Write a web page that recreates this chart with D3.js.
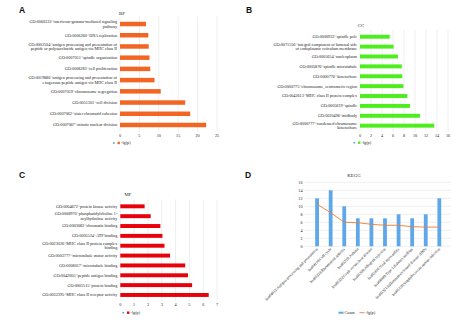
<!DOCTYPE html>
<html>
<head>
<meta charset="utf-8">
<script src="https://cdn.jsdelivr.net/npm/d3@7"></script>
<style>
  body { margin: 0; background: #fff; }
  svg { display: block; }
  .lbl { font-family: "Liberation Serif", "DejaVu Serif", serif; fill: #222; }
  .tag { font-family: "Liberation Sans", Arial, sans-serif; font-weight: bold; fill: #111; }
</style>
</head>
<body>
<svg id="chart" width="474" height="326"></svg>
<script>
// ---- data ----
const bpTerms = [
    "GO:0060333~interferon-gamma-mediated signaling\npathway",
    "GO:0006260~DNA replication",
    "GO:0002504~antigen processing and presentation of\npeptide or polysaccharide antigen via MHC class II",
    "GO:0007051~spindle organization",
    "GO:0008283~cell proliferation",
    "GO:0019886~antigen processing and presentation of\nexogenous peptide antigen via MHC class II",
    "GO:0007059~chromosome segregation",
    "GO:0051301~cell division",
    "GO:0007062~sister chromatid cohesion",
    "GO:0007067~mitotic nuclear division"
];
const bpValues = [6.7, 7.3, 7.4, 7.6, 7.8, 8.9, 10.5, 16.8, 18.1, 22.2];

const ccTerms = [
    "GO:0000922~spindle pole",
    "GO:0071556~integral component of lumenal side\nof endoplasmic reticulum membrane",
    "GO:0005654~nucleoplasm",
    "GO:0005876~spindle microtubule",
    "GO:0000776~kinetochore",
    "GO:0000775~chromosome, centromeric region",
    "GO:0042613~MHC class II protein complex",
    "GO:0005819~spindle",
    "GO:0030496~midbody",
    "GO:0000777~condensed chromosome\nkinetochore"
];
const ccValues = [5.4, 6.1, 6.9, 7.6, 7.7, 7.9, 8.6, 9.1, 10.9, 13.5];

const mfTerms = [
    "GO:0004672~protein kinase activity",
    "GO:0008970~phosphatidylcholine 1-\nacylhydrolase activity",
    "GO:0003682~chromatin binding",
    "GO:0005524~ATP binding",
    "GO:0023026~MHC class II protein complex\nbinding",
    "GO:0003777~microtubule motor activity",
    "GO:0008017~microtubule binding",
    "GO:0042605~peptide antigen binding",
    "GO:0005515~protein binding",
    "GO:0032395~MHC class II receptor activity"
];
const mfValues = [1.76, 2.2, 2.9, 3.05, 3.2, 3.6, 4.7, 4.9, 5.2, 6.4];

const keggTerms = [
    "hsa04612:Antigen processing and presentation",
    "hsa04110:Cell cycle",
    "hsa05323:Rheumatoid arthritis",
    "hsa05310:Asthma",
    "hsa05332:Graft-versus-host disease",
    "hsa05330:Allograft rejection",
    "hsa05416:Viral myocarditis",
    "hsa04940:Type I diabetes mellitus",
    "hsa05321:Inflammatory bowel disease (IBD)",
    "hsa05150:Staphylococcus aureus infection"
];
const keggCount = [12, 14, 10, 7, 7, 7, 8, 7, 8, 12];
const keggLgp = [10.5, 8.4, 6.0, 5.9, 5.5, 5.25, 5.25, 4.9, 4.8, 4.8];

const svg = d3.select("#chart");
const fs = 4.2;

function tag(x, y, t) {
    svg.append("text").attr("class", "tag").attr("x", x).attr("y", y)
        .attr("font-size", 8.5).text(t);
}

function hbar(o) {
    const g = svg.append("g");
    const x = d3.scaleLinear().domain([0, o.max]).range([o.x0, o.x1]);
    const y = d3.scaleBand().domain(o.terms).range([o.y0, o.y1])
        .paddingInner(0.6).paddingOuter(0.3);

    // grid
    g.selectAll(".grid").data(o.ticks).enter().append("line")
        .attr("x1", d => x(d)).attr("x2", d => x(d))
        .attr("y1", o.y0 - 2).attr("y2", o.y1 + 1)
        .attr("stroke", "#dcdcdc").attr("stroke-width", 0.5);

    g.selectAll(".tk").data(o.ticks).enter().append("text")
        .attr("class", "lbl").attr("font-size", fs)
        .attr("x", d => x(d)).attr("y", o.y1 + 6)
        .attr("text-anchor", "middle").text(d => d);

    g.selectAll(".bar").data(o.values).enter().append("rect")
        .attr("x", x(0))
        .attr("y", (d, i) => y(o.terms[i]))
        .attr("width", d => x(d) - x(0))
        .attr("height", y.bandwidth())
        .attr("fill", o.color);

    // category labels
    o.terms.forEach(t => {
        const lines = t.split("\n");
        const cy = y(t) + y.bandwidth() / 2;
        const txt = g.append("text").attr("class", "lbl").attr("font-size", fs)
            .attr("text-anchor", "end");
        lines.forEach((s, k) => {
            txt.append("tspan").attr("x", o.x0 - 3)
                .attr("y", cy + 1.4 + (k - (lines.length - 1) / 2) * 4.6)
                .text(s);
        });
    });

    g.append("text").attr("class", "lbl").attr("font-size", 4.8)
        .attr("x", o.titleX).attr("y", o.titleY).attr("text-anchor", "middle")
        .text(o.title);

    // legend
    g.append("rect").attr("x", o.legX).attr("y", o.legY - 0.8)
        .attr("width", 1.6).attr("height", 1.6).attr("fill", "#5b9bd5");
    g.append("rect").attr("x", o.legX + 4.5).attr("y", o.legY - 1.2)
        .attr("width", 2.4).attr("height", 2.4).attr("fill", o.color);
    g.append("text").attr("class", "lbl").attr("font-size", fs)
        .attr("x", o.legX + 8).attr("y", o.legY + 1.4).text("-lg(p)");
}

tag(19, 13, "A");
hbar({terms: bpTerms, values: bpValues, max: 25, ticks: d3.range(0, 26, 5),
      x0: 120, x1: 217, y0: 18.4, y1: 130.6, color: "#f26522",
      title: "BP", titleX: 122, titleY: 15, legX: 113, legY: 143});

tag(246, 13, "B");
hbar({terms: ccTerms, values: ccValues, max: 16, ticks: d3.range(0, 17, 2),
      x0: 360, x1: 448, y0: 31.8, y1: 130.6, color: "#4ded1e",
      title: "CC", titleX: 361, titleY: 27, legX: 353.5, legY: 142.7});

tag(19, 178, "C");
hbar({terms: mfTerms, values: mfValues, max: 7, ticks: d3.range(0, 8, 1),
      x0: 120.3, x1: 217, y0: 201.4, y1: 299.9, color: "#e8000b",
      title: "MF", titleX: 128, titleY: 196, legX: 122.5, legY: 312.7});

// ---- KEGG panel ----
tag(245, 178, "D");
const gk = svg.append("g");
const kx = d3.scaleBand().domain(keggTerms).range([305.4, 451]).padding(0.72);
const ky = d3.scaleLinear().domain([0, 16]).range([246.3, 182.3]);

gk.selectAll(".grid").data(ky.ticks(8)).enter().append("line")
    .attr("x1", 305).attr("x2", 451)
    .attr("y1", d => ky(d)).attr("y2", d => ky(d))
    .attr("stroke", "#dcdcdc").attr("stroke-width", 0.5);

gk.selectAll(".tk").data(ky.ticks(8)).enter().append("text")
    .attr("class", "lbl").attr("font-size", fs)
    .attr("x", 302.5).attr("y", d => ky(d) + 1.4)
    .attr("text-anchor", "end").text(d => d);

gk.selectAll(".bar").data(keggCount).enter().append("rect")
    .attr("x", (d, i) => kx(keggTerms[i]))
    .attr("y", d => ky(d))
    .attr("width", kx.bandwidth())
    .attr("height", d => ky(0) - ky(d))
    .attr("fill", "#5ea7ea");

const line = d3.line()
    .x((d, i) => kx(keggTerms[i]) + kx.bandwidth() / 2)
    .y(d => ky(d));
gk.append("path").datum(keggLgp).attr("d", line)
    .attr("fill", "none").attr("stroke", "#ed7d31").attr("stroke-width", 0.9);

gk.selectAll(".xl").data(keggTerms).enter().append("text")
    .attr("class", "lbl").attr("font-size", 3.9)
    .attr("text-anchor", "end")
    .attr("transform", d => "translate(" + (kx(d) + kx.bandwidth() / 2 + 1) + "," + (ky(0) + 3) + ") rotate(-45)")
    .text(d => d);

gk.append("text").attr("class", "lbl").attr("font-size", 4.8)
    .attr("x", 354).attr("y", 177).attr("text-anchor", "middle").text("KEGG");

// legend
gk.append("rect").attr("x", 338.5).attr("y", 311.7).attr("width", 5).attr("height", 2)
    .attr("fill", "#5ea7ea");
gk.append("text").attr("class", "lbl").attr("font-size", fs)
    .attr("x", 344.5).attr("y", 314.2).text("Count");
gk.append("line").attr("x1", 359.5).attr("x2", 364.5).attr("y1", 312.7).attr("y2", 312.7)
    .attr("stroke", "#ed7d31").attr("stroke-width", 0.9);
gk.append("text").attr("class", "lbl").attr("font-size", fs)
    .attr("x", 365.5).attr("y", 314.2).text("-lg(p)");
</script>
</body>
</html>
